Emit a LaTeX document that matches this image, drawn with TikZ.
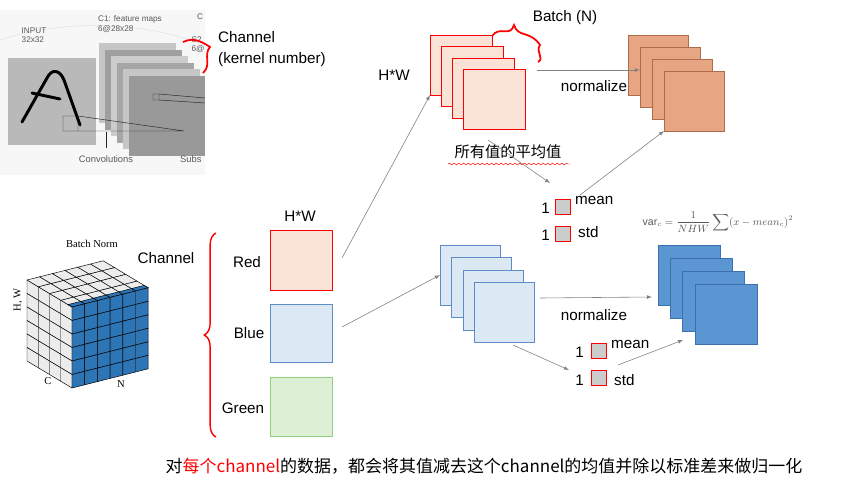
\documentclass[tikz,border=0pt]{standalone}
\usepackage{fontspec}
\setmainfont{Liberation Sans}
\newfontfamily\cjk{Noto Sans CJK SC}
\newfontfamily\serifx{Liberation Serif}
\usetikzlibrary{decorations.pathreplacing,decorations.pathmorphing,calc}
\definecolor{pinkf}{HTML}{F9E2D6}
\definecolor{bluef}{HTML}{DCE9F5}
\definecolor{blueb}{HTML}{5B8EC9}
\definecolor{greenf}{HTML}{DDF0D5}
\definecolor{greenb}{HTML}{8FD07A}
\definecolor{orangef}{HTML}{E8A584}
\definecolor{orangeb}{HTML}{B06C4A}
\definecolor{blued}{HTML}{5B96D3}
\definecolor{bluedb}{HTML}{3A6FB0}
\definecolor{cubeblue}{HTML}{2E75B6}
\begin{document}
\begin{tikzpicture}[x=0.03cm,y=-0.03cm,
  txt/.style={font=\fontsize{13}{15}\selectfont,inner sep=0pt},
  sm/.style={font=\fontsize{7}{8}\selectfont,inner sep=0pt,gray!70!black,align=left},
  cb/.style={font=\fontsize{9}{10}\selectfont\serifx,inner sep=0pt},
  arr/.style={gray,-latex,line width=0.5pt},
  box/.style n args={4}{draw=#3,fill=#4,minimum width={#1*0.03cm},minimum height={#2*0.03cm},inner sep=0pt,outer sep=0pt},
  sq/.style={minimum size={15*0.03cm},inner sep=0pt,draw=red,fill=gray!40,line width=0.6pt},
  rbrace/.style={red,line width=1.2pt,decorate,decoration={brace,amplitude=10}}]
\useasboundingbox (0,0) rectangle (857,494);
% ---- LeNet image ----
\fill[gray!6] (0,10) rectangle (205,175);
\draw[gray!25] (0,40) .. controls (60,20) and (140,20) .. (205,45);
\fill[gray!55] (8,58) rectangle (96,145);
\foreach \i/\c in {0/gray!45,1/gray!75,2/gray!40,3/gray!70,4/gray!45,5/gray!80}{
  \fill[\c] ({99+6*\i},{43+6.5*\i}) rectangle ({min(176+6*\i,205)},{123+6.5*\i});}
\draw[line width=2.5pt,line cap=round] (22,122) -- (47,78) .. controls (52,68) and (60,70) .. (64,80) -- (80,125);
\draw[line width=2.5pt,line cap=round] (32,93) -- (60,99);
\draw[gray!30!black,line width=0.4pt] (63,116) rectangle (78,131) (78,116) -- (184,131) (63,131)--(184,131);
\draw[gray!30!black,line width=0.4pt] (153,94) rectangle (159,100) (159,94)--(205,98) (159,100)--(205,103);
\draw[gray!30!black] (106,132) -- (106,148);
\node[sm] (inp) at (34,35) {INPUT\\32x32};
\node[sm] (c1) at (130,24) {C1: feature maps\\6@28x28};
\node[sm] at (200,17) {C};
\node[sm] at (198,45) {S2\\6@};
\node[sm,font=\fontsize{8}{9}\selectfont] at (106,159) {Convolutions};
\node[sm,font=\fontsize{8}{9}\selectfont,anchor=west] at (180,159) {Subs};
\draw[red,line width=1.5pt] (183,42) .. controls (195,36) and (205,44) .. (210,47) .. controls (203,55) and (212,65) .. (203,73);
\node[txt,anchor=west] (chk) at (218,37) {Channel};
\node[txt,anchor=west] at (218,60) {(kernel number)};
% ---- cube ----
\foreach \k in {1,...,4}{
  \foreach \j in {0,...,5}{
    \draw[fill=gray!15,line width=0.4pt] ($(72,{307+13.5*\j})+({-11.25*\k},{-6.75*\k})$) -- ++(11.25,6.75) -- ++(0,13.5) -- ++(-11.25,-6.75) -- cycle;}}
\foreach \k in {1,...,4}{
  \foreach \i in {0,...,5}{
    \draw[fill=gray!15,line width=0.4pt] ($(72,307)+({12.7*\i},{-3.2*\i})+({-11.25*\k},{-6.75*\k})$) -- ++(12.7,-3.2) -- ++(11.25,6.75) -- ++(-12.7,3.2) -- cycle;}}
\foreach \i in {0,...,5}{
  \draw[fill=cubeblue,line width=0.4pt] ($(72,307)+({12.7*\i},{-3.2*\i})+(-4,-2.4)$) -- ++(12.7,-3.2) -- ++(4,2.4) -- ++(-12.7,3.2) -- cycle;
  \foreach \j in {0,...,5}{
    \draw[fill=cubeblue,line width=0.4pt] ($(72,{307+13.5*\j})+({12.7*\i},{-3.2*\i})$) -- ++(12.7,-3.2) -- ++(0,13.5) -- ++(-12.7,3.2) -- cycle;}}
\node[cb] (bn) at (92,244) {Batch Norm};
\node[cb,rotate=90] at (18,300) {H, W};
\node[cb] at (48,381) {C};
\node[cb] at (121,384) {N};
% ---- channels ----
\node[txt] (chl) at (166,258) {Channel};
\draw[rbrace] (216,437) -- (216,233);
\node[txt] (hw1) at (300,216) {H*W};
\node[box={62}{60}{red}{pinkf}] (R) at (301,260) {};
\node[box={62}{58}{blueb}{bluef}] (B) at (301,333) {};
\node[box={62}{59}{greenb}{greenf}] (G) at (301,407) {};
\node[txt] at (247,262) {Red};
\node[txt] at (249,333) {Blue};
\node[txt] at (243,408) {Green};
% ---- top stack ----
\foreach \i in {0,...,3}{
  \node[box={62}{60}{red}{pinkf}] (t\i) at ({461+11*\i},{65+11.5*\i}) {};}
\foreach \i in {0,...,3}{
  \node[box={60}{60}{orangeb}{orangef}] (o\i) at ({658+12*\i},{65+12*\i}) {};}
\node[txt] (hw2) at (394,75) {H*W};
\node[txt] (bat) at (565,18) {Batch (N)};
\draw[red,line width=1.5pt] (492,36) .. controls (500,25) and (510,38) .. (514,25) .. controls (518,38) and (530,30) .. (540,45) .. controls (535,52) and (545,58) .. (538,62);
\coordinate (n1a) at (537,70); \coordinate (n1b) at (640,70);
\draw[arr] (n1a) -- (n1b);
\node[txt] at (594,86) {normalize};
\node[txt,font=\fontsize{13}{15}\selectfont\cjk] (avg) at (508,152) {所有值的平均值};
\draw[red,decorate,decoration={snake,amplitude=0.8,segment length=4}] (448,164) -- (570,164);
\node[sq] (m1) at (563,207) {}; \node[txt,anchor=east] at (550,208) {1};
\node[txt,anchor=west] at (575,200) {mean};
\node[sq] (s1) at (563,234) {}; \node[txt,anchor=east] at (550,235) {1};
\node[txt,anchor=west] at (578,232) {std};
\coordinate (a1) at (488,140); \coordinate (a1e) at (550,183); \draw[arr] (a1) -- (a1e);
\coordinate (a2) at (580,195); \draw[arr] (a2) -- (o3.south west);
\node[font=\fontsize{9}{11}\selectfont,text=gray!70!black] (f) at (718,222) {$\mathrm{var}_c=\displaystyle\frac{1}{NHW}\sum(x-mean_c)^2$};
% ---- bottom stack ----
\foreach \i in {0,...,3}{
  \node[box={60}{60}{blueb}{bluef}] (b\i) at ({470+11.5*\i},{275+12.5*\i}) {};}
\foreach \i in {0,...,3}{
  \node[box={62}{60}{bluedb}{blued}] (d\i) at ({689+12.3*\i},{275+13*\i}) {};}
\coordinate (n2a) at (540,298); \coordinate (n2b) at (652,297);
\draw[arr] (n2a) -- (n2b);
\node[txt] at (594,315) {normalize};
\node[sq] (m2) at (599,351) {}; \node[txt,anchor=east] at (584,352) {1};
\node[txt,anchor=west] at (611,344) {mean};
\node[sq] (s2) at (599,378) {}; \node[txt,anchor=east] at (584,380) {1};
\node[txt,anchor=west] at (614,380) {std};
\coordinate (a3) at (513,345); \coordinate (a3e) at (569,370); \draw[arr] (a3) -- (a3e);
\coordinate (a4) at (618,365); \coordinate (a5) at (683,340); \draw[arr] (a4) -- (a5);
% ---- channel arrows ----
\coordinate (r1) at (342,258); \coordinate (r2) at (342,327);
\draw[arr] (r1) -- (t0.south west);
\draw[arr] (r2) -- (b0.west);
% ---- bottom text ----
\node[txt,font=\fontsize{14.5}{16}\selectfont\cjk] (bot) at (484,466) {对\textcolor{red}{每个channel}的数据，都会将其值减去这个channel的均值并除以标准差来做归一化};
\end{tikzpicture}
\end{document}
